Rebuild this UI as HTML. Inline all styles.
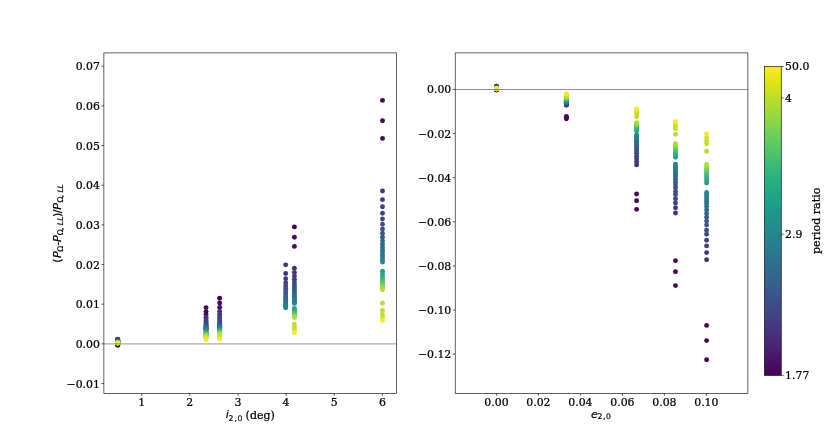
<!DOCTYPE html>
<html><head><meta charset="utf-8"><title>figure</title>
<style>html,body{margin:0;padding:0;background:#fff}svg{display:block}</style></head>
<body>
<svg width="831" height="442" viewBox="0 0 831 442">
<rect width="831" height="442" fill="#fff"/>
<defs><linearGradient id="vg" x1="0" y1="1" x2="0" y2="0">
<stop offset="0.0000" stop-color="#440154"/>
<stop offset="0.0312" stop-color="#470d60"/>
<stop offset="0.0625" stop-color="#48186a"/>
<stop offset="0.0938" stop-color="#482374"/>
<stop offset="0.1250" stop-color="#472d7b"/>
<stop offset="0.1562" stop-color="#453781"/>
<stop offset="0.1875" stop-color="#424086"/>
<stop offset="0.2188" stop-color="#3e4989"/>
<stop offset="0.2500" stop-color="#3b528b"/>
<stop offset="0.2812" stop-color="#375b8d"/>
<stop offset="0.3125" stop-color="#33638d"/>
<stop offset="0.3438" stop-color="#2f6b8e"/>
<stop offset="0.3750" stop-color="#2c728e"/>
<stop offset="0.4062" stop-color="#297a8e"/>
<stop offset="0.4375" stop-color="#26828e"/>
<stop offset="0.4688" stop-color="#23898e"/>
<stop offset="0.5000" stop-color="#21918c"/>
<stop offset="0.5312" stop-color="#1f988b"/>
<stop offset="0.5625" stop-color="#1fa088"/>
<stop offset="0.5938" stop-color="#22a785"/>
<stop offset="0.6250" stop-color="#28ae80"/>
<stop offset="0.6562" stop-color="#32b67a"/>
<stop offset="0.6875" stop-color="#3fbc73"/>
<stop offset="0.7188" stop-color="#4ec36b"/>
<stop offset="0.7500" stop-color="#5ec962"/>
<stop offset="0.7812" stop-color="#70cf57"/>
<stop offset="0.8125" stop-color="#84d44b"/>
<stop offset="0.8438" stop-color="#98d83e"/>
<stop offset="0.8750" stop-color="#addc30"/>
<stop offset="0.9062" stop-color="#c2df23"/>
<stop offset="0.9375" stop-color="#d8e219"/>
<stop offset="0.9688" stop-color="#ece51b"/>
<stop offset="1.0000" stop-color="#fde725"/>
</linearGradient></defs>
<g><circle cx="117.75" cy="345.35" r="2.45" fill="#440154"/><circle cx="117.75" cy="345.05" r="2.45" fill="#450457"/><circle cx="117.75" cy="344.75" r="2.45" fill="#46075a"/><circle cx="117.75" cy="339.10" r="2.45" fill="#472f7d"/><circle cx="117.75" cy="339.41" r="2.45" fill="#453581"/><circle cx="117.75" cy="339.72" r="2.45" fill="#443b84"/><circle cx="117.75" cy="340.03" r="2.45" fill="#424186"/><circle cx="117.75" cy="340.30" r="2.45" fill="#3f4788"/><circle cx="117.75" cy="340.55" r="2.45" fill="#3d4d8a"/><circle cx="117.75" cy="340.80" r="2.45" fill="#3b518b"/><circle cx="117.75" cy="341.04" r="2.45" fill="#39568c"/><circle cx="117.75" cy="341.29" r="2.45" fill="#365c8d"/><circle cx="117.75" cy="341.50" r="2.45" fill="#34618d"/><circle cx="117.75" cy="341.63" r="2.45" fill="#31668e"/><circle cx="117.75" cy="341.76" r="2.45" fill="#2f6b8e"/><circle cx="117.75" cy="341.89" r="2.45" fill="#2d708e"/><circle cx="117.75" cy="342.02" r="2.45" fill="#2b748e"/><circle cx="117.75" cy="342.16" r="2.45" fill="#29798e"/><circle cx="117.75" cy="342.29" r="2.45" fill="#287d8e"/><circle cx="117.75" cy="342.42" r="2.45" fill="#26828e"/><circle cx="117.75" cy="342.55" r="2.45" fill="#24868e"/><circle cx="117.75" cy="342.70" r="2.45" fill="#1e9c89"/><circle cx="117.75" cy="342.73" r="2.45" fill="#21a585"/><circle cx="117.75" cy="342.76" r="2.45" fill="#27ad81"/><circle cx="117.75" cy="342.78" r="2.45" fill="#32b67a"/><circle cx="117.75" cy="342.81" r="2.45" fill="#42be71"/><circle cx="117.75" cy="342.84" r="2.45" fill="#54c568"/><circle cx="117.75" cy="342.87" r="2.45" fill="#69cd5b"/><circle cx="117.75" cy="342.89" r="2.45" fill="#7fd34e"/><circle cx="117.75" cy="342.92" r="2.45" fill="#95d840"/><circle cx="117.75" cy="342.95" r="2.45" fill="#b0dd2f"/><circle cx="117.75" cy="342.97" r="2.45" fill="#b8de29"/><circle cx="117.75" cy="342.99" r="2.45" fill="#c0df25"/><circle cx="117.75" cy="343.01" r="2.45" fill="#c5e021"/><circle cx="117.75" cy="343.03" r="2.45" fill="#cde11d"/><circle cx="117.75" cy="343.07" r="2.45" fill="#fde725"/><circle cx="206.05" cy="307.60" r="2.45" fill="#440154"/><circle cx="206.05" cy="311.60" r="2.45" fill="#450457"/><circle cx="206.05" cy="314.60" r="2.45" fill="#46075a"/><circle cx="206.05" cy="317.25" r="2.45" fill="#472f7d"/><circle cx="206.05" cy="319.11" r="2.45" fill="#453581"/><circle cx="206.05" cy="320.85" r="2.45" fill="#443b84"/><circle cx="206.05" cy="322.05" r="2.45" fill="#424186"/><circle cx="206.05" cy="323.24" r="2.45" fill="#3f4788"/><circle cx="206.05" cy="324.44" r="2.45" fill="#3d4d8a"/><circle cx="206.05" cy="325.63" r="2.45" fill="#3b518b"/><circle cx="206.05" cy="326.18" r="2.45" fill="#39568c"/><circle cx="206.05" cy="326.71" r="2.45" fill="#365c8d"/><circle cx="206.05" cy="327.25" r="2.45" fill="#34618d"/><circle cx="206.05" cy="327.78" r="2.45" fill="#31668e"/><circle cx="206.05" cy="328.32" r="2.45" fill="#2f6b8e"/><circle cx="206.05" cy="328.65" r="2.45" fill="#2d708e"/><circle cx="206.05" cy="328.92" r="2.45" fill="#2b748e"/><circle cx="206.05" cy="329.19" r="2.45" fill="#29798e"/><circle cx="206.05" cy="329.46" r="2.45" fill="#287d8e"/><circle cx="206.05" cy="329.73" r="2.45" fill="#26828e"/><circle cx="206.05" cy="330.00" r="2.45" fill="#24868e"/><circle cx="206.05" cy="331.50" r="2.45" fill="#1e9c89"/><circle cx="206.05" cy="332.21" r="2.45" fill="#21a585"/><circle cx="206.05" cy="332.91" r="2.45" fill="#27ad81"/><circle cx="206.05" cy="333.62" r="2.45" fill="#32b67a"/><circle cx="206.05" cy="334.17" r="2.45" fill="#42be71"/><circle cx="206.05" cy="334.53" r="2.45" fill="#54c568"/><circle cx="206.05" cy="334.90" r="2.45" fill="#69cd5b"/><circle cx="206.05" cy="335.27" r="2.45" fill="#7fd34e"/><circle cx="206.05" cy="335.63" r="2.45" fill="#95d840"/><circle cx="206.05" cy="336.00" r="2.45" fill="#b0dd2f"/><circle cx="206.05" cy="336.45" r="2.45" fill="#b8de29"/><circle cx="206.05" cy="336.95" r="2.45" fill="#c0df25"/><circle cx="206.05" cy="337.45" r="2.45" fill="#c5e021"/><circle cx="206.05" cy="337.95" r="2.45" fill="#cde11d"/><circle cx="206.05" cy="339.70" r="2.45" fill="#fde725"/><circle cx="219.65" cy="298.20" r="2.45" fill="#440154"/><circle cx="219.65" cy="303.00" r="2.45" fill="#450457"/><circle cx="219.65" cy="307.40" r="2.45" fill="#46075a"/><circle cx="219.65" cy="311.50" r="2.45" fill="#472f7d"/><circle cx="219.65" cy="314.15" r="2.45" fill="#453581"/><circle cx="219.65" cy="316.67" r="2.45" fill="#443b84"/><circle cx="219.65" cy="318.56" r="2.45" fill="#424186"/><circle cx="219.65" cy="320.45" r="2.45" fill="#3f4788"/><circle cx="219.65" cy="322.33" r="2.45" fill="#3d4d8a"/><circle cx="219.65" cy="324.22" r="2.45" fill="#3b518b"/><circle cx="219.65" cy="324.78" r="2.45" fill="#39568c"/><circle cx="219.65" cy="325.31" r="2.45" fill="#365c8d"/><circle cx="219.65" cy="325.85" r="2.45" fill="#34618d"/><circle cx="219.65" cy="326.38" r="2.45" fill="#31668e"/><circle cx="219.65" cy="326.92" r="2.45" fill="#2f6b8e"/><circle cx="219.65" cy="327.26" r="2.45" fill="#2d708e"/><circle cx="219.65" cy="327.54" r="2.45" fill="#2b748e"/><circle cx="219.65" cy="327.82" r="2.45" fill="#29798e"/><circle cx="219.65" cy="328.09" r="2.45" fill="#287d8e"/><circle cx="219.65" cy="328.37" r="2.45" fill="#26828e"/><circle cx="219.65" cy="328.65" r="2.45" fill="#24868e"/><circle cx="219.65" cy="329.95" r="2.45" fill="#1e9c89"/><circle cx="219.65" cy="330.49" r="2.45" fill="#21a585"/><circle cx="219.65" cy="331.02" r="2.45" fill="#27ad81"/><circle cx="219.65" cy="331.56" r="2.45" fill="#32b67a"/><circle cx="219.65" cy="332.08" r="2.45" fill="#42be71"/><circle cx="219.65" cy="332.57" r="2.45" fill="#54c568"/><circle cx="219.65" cy="333.06" r="2.45" fill="#69cd5b"/><circle cx="219.65" cy="333.56" r="2.45" fill="#7fd34e"/><circle cx="219.65" cy="334.06" r="2.45" fill="#95d840"/><circle cx="219.65" cy="334.55" r="2.45" fill="#b0dd2f"/><circle cx="219.65" cy="335.05" r="2.45" fill="#b8de29"/><circle cx="219.65" cy="335.55" r="2.45" fill="#c0df25"/><circle cx="219.65" cy="336.05" r="2.45" fill="#c5e021"/><circle cx="219.65" cy="336.85" r="2.45" fill="#cde11d"/><circle cx="219.65" cy="339.00" r="2.45" fill="#fde725"/><circle cx="285.70" cy="264.83" r="2.45" fill="#472f7d"/><circle cx="285.70" cy="273.48" r="2.45" fill="#453581"/><circle cx="285.70" cy="278.75" r="2.45" fill="#443b84"/><circle cx="285.70" cy="282.75" r="2.45" fill="#424186"/><circle cx="285.70" cy="285.67" r="2.45" fill="#3f4788"/><circle cx="285.70" cy="288.32" r="2.45" fill="#3d4d8a"/><circle cx="285.70" cy="290.73" r="2.45" fill="#3b518b"/><circle cx="285.70" cy="292.93" r="2.45" fill="#39568c"/><circle cx="285.70" cy="294.97" r="2.45" fill="#365c8d"/><circle cx="285.70" cy="296.85" r="2.45" fill="#34618d"/><circle cx="285.70" cy="298.59" r="2.45" fill="#31668e"/><circle cx="285.70" cy="300.21" r="2.45" fill="#2f6b8e"/><circle cx="285.70" cy="301.71" r="2.45" fill="#2d708e"/><circle cx="285.70" cy="303.11" r="2.45" fill="#2b748e"/><circle cx="285.70" cy="304.41" r="2.45" fill="#29798e"/><circle cx="285.70" cy="305.62" r="2.45" fill="#287d8e"/><circle cx="285.70" cy="306.75" r="2.45" fill="#26828e"/><circle cx="285.70" cy="307.80" r="2.45" fill="#24868e"/><circle cx="294.40" cy="226.90" r="2.45" fill="#440154"/><circle cx="294.40" cy="237.30" r="2.45" fill="#450457"/><circle cx="294.40" cy="246.40" r="2.45" fill="#46075a"/><circle cx="294.40" cy="268.27" r="2.45" fill="#472f7d"/><circle cx="294.40" cy="272.54" r="2.45" fill="#453581"/><circle cx="294.40" cy="276.08" r="2.45" fill="#443b84"/><circle cx="294.40" cy="279.29" r="2.45" fill="#424186"/><circle cx="294.40" cy="282.11" r="2.45" fill="#3f4788"/><circle cx="294.40" cy="284.68" r="2.45" fill="#3d4d8a"/><circle cx="294.40" cy="287.01" r="2.45" fill="#3b518b"/><circle cx="294.40" cy="289.13" r="2.45" fill="#39568c"/><circle cx="294.40" cy="291.11" r="2.45" fill="#365c8d"/><circle cx="294.40" cy="292.92" r="2.45" fill="#34618d"/><circle cx="294.40" cy="294.60" r="2.45" fill="#31668e"/><circle cx="294.40" cy="296.16" r="2.45" fill="#2f6b8e"/><circle cx="294.40" cy="297.61" r="2.45" fill="#2d708e"/><circle cx="294.40" cy="298.95" r="2.45" fill="#2b748e"/><circle cx="294.40" cy="300.20" r="2.45" fill="#29798e"/><circle cx="294.40" cy="301.36" r="2.45" fill="#287d8e"/><circle cx="294.40" cy="302.43" r="2.45" fill="#26828e"/><circle cx="294.40" cy="303.42" r="2.45" fill="#24868e"/><circle cx="294.40" cy="308.52" r="2.45" fill="#1e9c89"/><circle cx="294.40" cy="309.79" r="2.45" fill="#21a585"/><circle cx="294.40" cy="310.99" r="2.45" fill="#27ad81"/><circle cx="294.40" cy="312.11" r="2.45" fill="#32b67a"/><circle cx="294.40" cy="313.16" r="2.45" fill="#42be71"/><circle cx="294.40" cy="314.15" r="2.45" fill="#54c568"/><circle cx="294.40" cy="315.08" r="2.45" fill="#69cd5b"/><circle cx="294.40" cy="315.95" r="2.45" fill="#7fd34e"/><circle cx="294.40" cy="316.76" r="2.45" fill="#95d840"/><circle cx="294.40" cy="317.53" r="2.45" fill="#b0dd2f"/><circle cx="294.40" cy="324.10" r="2.45" fill="#b8de29"/><circle cx="294.40" cy="327.00" r="2.45" fill="#c0df25"/><circle cx="294.40" cy="329.50" r="2.45" fill="#c5e021"/><circle cx="294.40" cy="330.85" r="2.45" fill="#cde11d"/><circle cx="294.40" cy="332.50" r="2.45" fill="#fde725"/><circle cx="382.50" cy="100.40" r="2.45" fill="#440154"/><circle cx="382.50" cy="120.70" r="2.45" fill="#450457"/><circle cx="382.50" cy="138.40" r="2.45" fill="#46075a"/><circle cx="382.50" cy="191.00" r="2.45" fill="#472f7d"/><circle cx="382.50" cy="199.65" r="2.45" fill="#453581"/><circle cx="382.50" cy="206.80" r="2.45" fill="#443b84"/><circle cx="382.50" cy="213.30" r="2.45" fill="#424186"/><circle cx="382.50" cy="219.00" r="2.45" fill="#3f4788"/><circle cx="382.50" cy="224.20" r="2.45" fill="#3d4d8a"/><circle cx="382.50" cy="228.90" r="2.45" fill="#3b518b"/><circle cx="382.50" cy="233.20" r="2.45" fill="#39568c"/><circle cx="382.50" cy="237.20" r="2.45" fill="#365c8d"/><circle cx="382.50" cy="240.86" r="2.45" fill="#34618d"/><circle cx="382.50" cy="244.26" r="2.45" fill="#31668e"/><circle cx="382.50" cy="247.41" r="2.45" fill="#2f6b8e"/><circle cx="382.50" cy="250.34" r="2.45" fill="#2d708e"/><circle cx="382.50" cy="253.06" r="2.45" fill="#2b748e"/><circle cx="382.50" cy="255.58" r="2.45" fill="#29798e"/><circle cx="382.50" cy="257.92" r="2.45" fill="#287d8e"/><circle cx="382.50" cy="260.09" r="2.45" fill="#26828e"/><circle cx="382.50" cy="262.10" r="2.45" fill="#24868e"/><circle cx="382.50" cy="271.30" r="2.45" fill="#1e9c89"/><circle cx="382.50" cy="273.92" r="2.45" fill="#21a585"/><circle cx="382.50" cy="276.37" r="2.45" fill="#27ad81"/><circle cx="382.50" cy="278.68" r="2.45" fill="#32b67a"/><circle cx="382.50" cy="280.84" r="2.45" fill="#42be71"/><circle cx="382.50" cy="282.87" r="2.45" fill="#54c568"/><circle cx="382.50" cy="284.77" r="2.45" fill="#69cd5b"/><circle cx="382.50" cy="286.55" r="2.45" fill="#7fd34e"/><circle cx="382.50" cy="288.23" r="2.45" fill="#95d840"/><circle cx="382.50" cy="289.80" r="2.45" fill="#b0dd2f"/><circle cx="382.50" cy="303.20" r="2.45" fill="#b8de29"/><circle cx="382.50" cy="310.40" r="2.45" fill="#c0df25"/><circle cx="382.50" cy="314.40" r="2.45" fill="#c5e021"/><circle cx="382.50" cy="317.10" r="2.45" fill="#cde11d"/><circle cx="382.50" cy="320.40" r="2.45" fill="#fde725"/><circle cx="496.50" cy="90.05" r="2.45" fill="#440154"/><circle cx="496.50" cy="89.90" r="2.45" fill="#450457"/><circle cx="496.50" cy="89.75" r="2.45" fill="#46075a"/><circle cx="496.50" cy="86.25" r="2.45" fill="#472f7d"/><circle cx="496.50" cy="86.47" r="2.45" fill="#453581"/><circle cx="496.50" cy="86.69" r="2.45" fill="#443b84"/><circle cx="496.50" cy="86.91" r="2.45" fill="#424186"/><circle cx="496.50" cy="87.09" r="2.45" fill="#3f4788"/><circle cx="496.50" cy="87.24" r="2.45" fill="#3d4d8a"/><circle cx="496.50" cy="87.40" r="2.45" fill="#3b518b"/><circle cx="496.50" cy="87.55" r="2.45" fill="#39568c"/><circle cx="496.50" cy="87.70" r="2.45" fill="#365c8d"/><circle cx="496.50" cy="87.83" r="2.45" fill="#34618d"/><circle cx="496.50" cy="87.91" r="2.45" fill="#31668e"/><circle cx="496.50" cy="87.98" r="2.45" fill="#2f6b8e"/><circle cx="496.50" cy="88.06" r="2.45" fill="#2d708e"/><circle cx="496.50" cy="88.14" r="2.45" fill="#2b748e"/><circle cx="496.50" cy="88.22" r="2.45" fill="#29798e"/><circle cx="496.50" cy="88.29" r="2.45" fill="#287d8e"/><circle cx="496.50" cy="88.37" r="2.45" fill="#26828e"/><circle cx="496.50" cy="88.45" r="2.45" fill="#24868e"/><circle cx="496.50" cy="88.55" r="2.45" fill="#1e9c89"/><circle cx="496.50" cy="88.57" r="2.45" fill="#21a585"/><circle cx="496.50" cy="88.58" r="2.45" fill="#27ad81"/><circle cx="496.50" cy="88.60" r="2.45" fill="#32b67a"/><circle cx="496.50" cy="88.62" r="2.45" fill="#42be71"/><circle cx="496.50" cy="88.63" r="2.45" fill="#54c568"/><circle cx="496.50" cy="88.65" r="2.45" fill="#69cd5b"/><circle cx="496.50" cy="88.67" r="2.45" fill="#7fd34e"/><circle cx="496.50" cy="88.68" r="2.45" fill="#95d840"/><circle cx="496.50" cy="88.70" r="2.45" fill="#b0dd2f"/><circle cx="496.50" cy="88.72" r="2.45" fill="#b8de29"/><circle cx="496.50" cy="88.74" r="2.45" fill="#c0df25"/><circle cx="496.50" cy="88.76" r="2.45" fill="#c5e021"/><circle cx="496.50" cy="88.78" r="2.45" fill="#cde11d"/><circle cx="496.50" cy="88.80" r="2.45" fill="#fde725"/><circle cx="566.40" cy="118.85" r="2.45" fill="#440154"/><circle cx="566.40" cy="117.70" r="2.45" fill="#450457"/><circle cx="566.40" cy="116.50" r="2.45" fill="#46075a"/><circle cx="566.40" cy="105.30" r="2.45" fill="#472f7d"/><circle cx="566.40" cy="104.90" r="2.45" fill="#453581"/><circle cx="566.40" cy="104.50" r="2.45" fill="#443b84"/><circle cx="566.40" cy="104.10" r="2.45" fill="#424186"/><circle cx="566.40" cy="103.70" r="2.45" fill="#3f4788"/><circle cx="566.40" cy="103.31" r="2.45" fill="#3d4d8a"/><circle cx="566.40" cy="102.91" r="2.45" fill="#3b518b"/><circle cx="566.40" cy="102.73" r="2.45" fill="#39568c"/><circle cx="566.40" cy="102.56" r="2.45" fill="#365c8d"/><circle cx="566.40" cy="102.38" r="2.45" fill="#34618d"/><circle cx="566.40" cy="102.21" r="2.45" fill="#31668e"/><circle cx="566.40" cy="102.04" r="2.45" fill="#2f6b8e"/><circle cx="566.40" cy="101.86" r="2.45" fill="#2d708e"/><circle cx="566.40" cy="101.69" r="2.45" fill="#2b748e"/><circle cx="566.40" cy="101.52" r="2.45" fill="#29798e"/><circle cx="566.40" cy="101.35" r="2.45" fill="#287d8e"/><circle cx="566.40" cy="101.17" r="2.45" fill="#26828e"/><circle cx="566.40" cy="101.00" r="2.45" fill="#24868e"/><circle cx="566.40" cy="100.40" r="2.45" fill="#1e9c89"/><circle cx="566.40" cy="99.95" r="2.45" fill="#21a585"/><circle cx="566.40" cy="99.50" r="2.45" fill="#27ad81"/><circle cx="566.40" cy="99.05" r="2.45" fill="#32b67a"/><circle cx="566.40" cy="98.63" r="2.45" fill="#42be71"/><circle cx="566.40" cy="98.27" r="2.45" fill="#54c568"/><circle cx="566.40" cy="97.90" r="2.45" fill="#69cd5b"/><circle cx="566.40" cy="97.53" r="2.45" fill="#7fd34e"/><circle cx="566.40" cy="97.17" r="2.45" fill="#95d840"/><circle cx="566.40" cy="96.80" r="2.45" fill="#b0dd2f"/><circle cx="566.40" cy="96.30" r="2.45" fill="#b8de29"/><circle cx="566.40" cy="95.80" r="2.45" fill="#c0df25"/><circle cx="566.40" cy="95.30" r="2.45" fill="#c5e021"/><circle cx="566.40" cy="94.80" r="2.45" fill="#cde11d"/><circle cx="566.40" cy="93.80" r="2.45" fill="#fde725"/><circle cx="636.60" cy="209.35" r="2.45" fill="#440154"/><circle cx="636.60" cy="200.82" r="2.45" fill="#450457"/><circle cx="636.60" cy="194.07" r="2.45" fill="#46075a"/><circle cx="636.60" cy="164.90" r="2.45" fill="#472f7d"/><circle cx="636.60" cy="161.75" r="2.45" fill="#453581"/><circle cx="636.60" cy="158.77" r="2.45" fill="#443b84"/><circle cx="636.60" cy="156.24" r="2.45" fill="#424186"/><circle cx="636.60" cy="153.62" r="2.45" fill="#3f4788"/><circle cx="636.60" cy="151.80" r="2.45" fill="#3d4d8a"/><circle cx="636.60" cy="149.54" r="2.45" fill="#3b518b"/><circle cx="636.60" cy="147.76" r="2.45" fill="#39568c"/><circle cx="636.60" cy="146.08" r="2.45" fill="#365c8d"/><circle cx="636.60" cy="144.39" r="2.45" fill="#34618d"/><circle cx="636.60" cy="142.79" r="2.45" fill="#31668e"/><circle cx="636.60" cy="141.33" r="2.45" fill="#2f6b8e"/><circle cx="636.60" cy="140.08" r="2.45" fill="#2d708e"/><circle cx="636.60" cy="138.92" r="2.45" fill="#2b748e"/><circle cx="636.60" cy="137.84" r="2.45" fill="#29798e"/><circle cx="636.60" cy="136.83" r="2.45" fill="#287d8e"/><circle cx="636.60" cy="135.89" r="2.45" fill="#26828e"/><circle cx="636.60" cy="135.02" r="2.45" fill="#24868e"/><circle cx="636.60" cy="130.89" r="2.45" fill="#1e9c89"/><circle cx="636.60" cy="129.72" r="2.45" fill="#21a585"/><circle cx="636.60" cy="128.61" r="2.45" fill="#27ad81"/><circle cx="636.60" cy="127.58" r="2.45" fill="#32b67a"/><circle cx="636.60" cy="126.61" r="2.45" fill="#42be71"/><circle cx="636.60" cy="125.70" r="2.45" fill="#54c568"/><circle cx="636.60" cy="124.85" r="2.45" fill="#69cd5b"/><circle cx="636.60" cy="124.05" r="2.45" fill="#7fd34e"/><circle cx="636.60" cy="123.29" r="2.45" fill="#95d840"/><circle cx="636.60" cy="122.59" r="2.45" fill="#b0dd2f"/><circle cx="636.60" cy="116.77" r="2.45" fill="#b8de29"/><circle cx="636.60" cy="113.40" r="2.45" fill="#c0df25"/><circle cx="636.60" cy="112.24" r="2.45" fill="#c5e021"/><circle cx="636.60" cy="110.78" r="2.45" fill="#cde11d"/><circle cx="636.60" cy="109.05" r="2.45" fill="#fde725"/><circle cx="675.50" cy="285.60" r="2.45" fill="#440154"/><circle cx="675.50" cy="271.67" r="2.45" fill="#450457"/><circle cx="675.50" cy="260.63" r="2.45" fill="#46075a"/><circle cx="675.50" cy="212.95" r="2.45" fill="#472f7d"/><circle cx="675.50" cy="207.80" r="2.45" fill="#453581"/><circle cx="675.50" cy="202.93" r="2.45" fill="#443b84"/><circle cx="675.50" cy="198.80" r="2.45" fill="#424186"/><circle cx="675.50" cy="194.51" r="2.45" fill="#3f4788"/><circle cx="675.50" cy="191.54" r="2.45" fill="#3d4d8a"/><circle cx="675.50" cy="187.84" r="2.45" fill="#3b518b"/><circle cx="675.50" cy="184.93" r="2.45" fill="#39568c"/><circle cx="675.50" cy="182.17" r="2.45" fill="#365c8d"/><circle cx="675.50" cy="179.42" r="2.45" fill="#34618d"/><circle cx="675.50" cy="176.80" r="2.45" fill="#31668e"/><circle cx="675.50" cy="174.41" r="2.45" fill="#2f6b8e"/><circle cx="675.50" cy="172.37" r="2.45" fill="#2d708e"/><circle cx="675.50" cy="170.47" r="2.45" fill="#2b748e"/><circle cx="675.50" cy="168.71" r="2.45" fill="#29798e"/><circle cx="675.50" cy="167.06" r="2.45" fill="#287d8e"/><circle cx="675.50" cy="165.53" r="2.45" fill="#26828e"/><circle cx="675.50" cy="164.10" r="2.45" fill="#24868e"/><circle cx="675.50" cy="157.35" r="2.45" fill="#1e9c89"/><circle cx="675.50" cy="155.43" r="2.45" fill="#21a585"/><circle cx="675.50" cy="153.63" r="2.45" fill="#27ad81"/><circle cx="675.50" cy="151.94" r="2.45" fill="#32b67a"/><circle cx="675.50" cy="150.35" r="2.45" fill="#42be71"/><circle cx="675.50" cy="148.87" r="2.45" fill="#54c568"/><circle cx="675.50" cy="147.47" r="2.45" fill="#69cd5b"/><circle cx="675.50" cy="146.16" r="2.45" fill="#7fd34e"/><circle cx="675.50" cy="144.93" r="2.45" fill="#95d840"/><circle cx="675.50" cy="143.78" r="2.45" fill="#b0dd2f"/><circle cx="675.50" cy="134.27" r="2.45" fill="#b8de29"/><circle cx="675.50" cy="128.76" r="2.45" fill="#c0df25"/><circle cx="675.50" cy="126.87" r="2.45" fill="#c5e021"/><circle cx="675.50" cy="124.47" r="2.45" fill="#cde11d"/><circle cx="675.50" cy="121.64" r="2.45" fill="#fde725"/><circle cx="706.60" cy="359.80" r="2.45" fill="#440154"/><circle cx="706.60" cy="340.60" r="2.45" fill="#450457"/><circle cx="706.60" cy="325.40" r="2.45" fill="#46075a"/><circle cx="706.60" cy="259.70" r="2.45" fill="#472f7d"/><circle cx="706.60" cy="252.60" r="2.45" fill="#453581"/><circle cx="706.60" cy="245.90" r="2.45" fill="#443b84"/><circle cx="706.60" cy="240.20" r="2.45" fill="#424186"/><circle cx="706.60" cy="234.30" r="2.45" fill="#3f4788"/><circle cx="706.60" cy="230.20" r="2.45" fill="#3d4d8a"/><circle cx="706.60" cy="225.10" r="2.45" fill="#3b518b"/><circle cx="706.60" cy="221.10" r="2.45" fill="#39568c"/><circle cx="706.60" cy="217.30" r="2.45" fill="#365c8d"/><circle cx="706.60" cy="213.50" r="2.45" fill="#34618d"/><circle cx="706.60" cy="209.90" r="2.45" fill="#31668e"/><circle cx="706.60" cy="206.60" r="2.45" fill="#2f6b8e"/><circle cx="706.60" cy="203.79" r="2.45" fill="#2d708e"/><circle cx="706.60" cy="201.18" r="2.45" fill="#2b748e"/><circle cx="706.60" cy="198.74" r="2.45" fill="#29798e"/><circle cx="706.60" cy="196.48" r="2.45" fill="#287d8e"/><circle cx="706.60" cy="194.37" r="2.45" fill="#26828e"/><circle cx="706.60" cy="192.40" r="2.45" fill="#24868e"/><circle cx="706.60" cy="183.10" r="2.45" fill="#1e9c89"/><circle cx="706.60" cy="180.45" r="2.45" fill="#21a585"/><circle cx="706.60" cy="177.97" r="2.45" fill="#27ad81"/><circle cx="706.60" cy="175.64" r="2.45" fill="#32b67a"/><circle cx="706.60" cy="173.46" r="2.45" fill="#42be71"/><circle cx="706.60" cy="171.41" r="2.45" fill="#54c568"/><circle cx="706.60" cy="169.48" r="2.45" fill="#69cd5b"/><circle cx="706.60" cy="167.68" r="2.45" fill="#7fd34e"/><circle cx="706.60" cy="165.99" r="2.45" fill="#95d840"/><circle cx="706.60" cy="164.40" r="2.45" fill="#b0dd2f"/><circle cx="706.60" cy="151.30" r="2.45" fill="#b8de29"/><circle cx="706.60" cy="143.70" r="2.45" fill="#c0df25"/><circle cx="706.60" cy="141.10" r="2.45" fill="#c5e021"/><circle cx="706.60" cy="137.80" r="2.45" fill="#cde11d"/><circle cx="706.60" cy="133.90" r="2.45" fill="#fde725"/></g>
<line x1="103.90" y1="343.85" x2="396.50" y2="343.85" stroke="#000" stroke-opacity="0.33" stroke-width="1.45"/>
<line x1="455.20" y1="89.50" x2="747.90" y2="89.50" stroke="#000" stroke-opacity="0.75" stroke-width="0.6"/>
<rect x="103.90" y="52.92" width="292.60" height="340.48" fill="none" stroke="#000" stroke-width="0.62"/>
<rect x="455.20" y="52.92" width="292.70" height="340.48" fill="none" stroke="#000" stroke-width="0.62"/>
<rect x="764.45" y="66.50" width="16.80" height="308.90" fill="url(#vg)"/>
<rect x="764.45" y="66.50" width="16.80" height="308.90" fill="none" stroke="#000" stroke-width="0.62"/>
<path d="M141.70 393.40v2.45M189.83 393.40v2.45M237.96 393.40v2.45M286.09 393.40v2.45M334.22 393.40v2.45M382.35 393.40v2.45M103.90 383.51h-2.45M103.90 343.85h-2.45M103.90 304.19h-2.45M103.90 264.53h-2.45M103.90 224.87h-2.45M103.90 185.21h-2.45M103.90 145.55h-2.45M103.90 105.89h-2.45M103.90 66.23h-2.45M496.45 393.40v2.45M538.43 393.40v2.45M580.41 393.40v2.45M622.39 393.40v2.45M664.37 393.40v2.45M706.35 393.40v2.45M455.20 89.45h-2.45M455.20 133.57h-2.45M455.20 177.69h-2.45M455.20 221.81h-2.45M455.20 265.93h-2.45M455.20 310.05h-2.45M455.20 354.17h-2.45M781.25 66.50h2.45M781.25 97.90h2.45M781.25 234.20h2.45M781.25 375.60h2.45" stroke="#000" stroke-width="0.62" fill="none"/>
<g font-family='"DejaVu Serif", "Liberation Serif", serif' font-size="10.90" fill="#000" stroke="#000" stroke-width="0.24"><text x="141.70" y="405.95" text-anchor="middle">1</text><text x="189.83" y="405.95" text-anchor="middle">2</text><text x="237.96" y="405.95" text-anchor="middle">3</text><text x="286.09" y="405.95" text-anchor="middle">4</text><text x="334.22" y="405.95" text-anchor="middle">5</text><text x="382.35" y="405.95" text-anchor="middle">6</text><text x="99.95" y="387.56" text-anchor="end">−0.01</text><text x="99.95" y="347.90" text-anchor="end">0.00</text><text x="99.95" y="308.24" text-anchor="end">0.01</text><text x="99.95" y="268.58" text-anchor="end">0.02</text><text x="99.95" y="228.92" text-anchor="end">0.03</text><text x="99.95" y="189.26" text-anchor="end">0.04</text><text x="99.95" y="149.60" text-anchor="end">0.05</text><text x="99.95" y="109.94" text-anchor="end">0.06</text><text x="99.95" y="70.28" text-anchor="end">0.07</text><text x="496.45" y="405.95" text-anchor="middle">0.00</text><text x="538.43" y="405.95" text-anchor="middle">0.02</text><text x="580.41" y="405.95" text-anchor="middle">0.04</text><text x="622.39" y="405.95" text-anchor="middle">0.06</text><text x="664.37" y="405.95" text-anchor="middle">0.08</text><text x="706.35" y="405.95" text-anchor="middle">0.10</text><text x="451.25" y="93.45" text-anchor="end">0.00</text><text x="451.25" y="137.57" text-anchor="end">−0.02</text><text x="451.25" y="181.69" text-anchor="end">−0.04</text><text x="451.25" y="225.81" text-anchor="end">−0.06</text><text x="451.25" y="269.93" text-anchor="end">−0.08</text><text x="451.25" y="314.05" text-anchor="end">−0.10</text><text x="451.25" y="358.17" text-anchor="end">−0.12</text><text x="785.10" y="70.25" text-anchor="start">50.0</text><text x="785.10" y="101.65" text-anchor="start">4</text><text x="785.10" y="237.95" text-anchor="start">2.9</text><text x="785.10" y="379.35" text-anchor="start">1.77</text></g>
<g fill="#000" stroke="#000" stroke-width="0.20"><text x="225.71" y="418.40" font-size="11.10" font-family='"DejaVu Sans", "Liberation Sans", sans-serif' font-style="italic">i</text><text x="228.59" y="420.50" font-size="7.77" font-family='"DejaVu Sans", "Liberation Sans", sans-serif' stroke-width="0.17">2</text><text x="234.40" y="420.50" font-size="7.77" font-family='"DejaVu Sans", "Liberation Sans", sans-serif' stroke-width="0.17">,</text><text x="237.39" y="420.50" font-size="7.77" font-family='"DejaVu Sans", "Liberation Sans", sans-serif' stroke-width="0.17">0</text><text x="245.62" y="418.50" font-size="11.00" font-family='"DejaVu Serif", "Liberation Serif", serif'>(deg)</text></g>
<g fill="#000" stroke="#000" stroke-width="0.20"><text x="590.90" y="417.90" font-size="11.10" font-family='"DejaVu Sans", "Liberation Sans", sans-serif' font-style="italic">e</text><text x="597.54" y="418.80" font-size="7.77" font-family='"DejaVu Sans", "Liberation Sans", sans-serif' stroke-width="0.17">2</text><text x="603.10" y="418.80" font-size="7.77" font-family='"DejaVu Sans", "Liberation Sans", sans-serif' stroke-width="0.17">,</text><text x="606.09" y="418.80" font-size="7.77" font-family='"DejaVu Sans", "Liberation Sans", sans-serif' stroke-width="0.17">0</text></g>
<g fill="#000" stroke="#000" stroke-width="0.20" transform="translate(60.9 261.9) rotate(-90)"><text x="-0.74" y="0.00" font-size="11.10" font-family='"DejaVu Sans", "Liberation Sans", sans-serif'>(</text><text x="3.89" y="0.00" font-size="11.10" font-family='"DejaVu Sans", "Liberation Sans", sans-serif' font-style="italic">P</text><text x="10.11" y="2.20" font-size="7.77" font-family='"DejaVu Sans", "Liberation Sans", sans-serif' stroke-width="0.17">Ω</text><text x="16.40" y="0.70" font-size="11.10" font-family='"DejaVu Serif", "Liberation Serif", serif'>-</text><text x="19.99" y="0.00" font-size="11.10" font-family='"DejaVu Sans", "Liberation Sans", sans-serif' font-style="italic">P</text><text x="26.61" y="2.20" font-size="7.77" font-family='"DejaVu Sans", "Liberation Sans", sans-serif' stroke-width="0.17">Ω</text><text x="31.80" y="2.20" font-size="7.77" font-family='"DejaVu Sans", "Liberation Sans", sans-serif' stroke-width="0.17">,</text><text x="36.59" y="2.20" font-size="7.77" font-family='"DejaVu Sans", "Liberation Sans", sans-serif' font-style="italic" stroke-width="0.17">L</text><text x="41.19" y="2.20" font-size="7.77" font-family='"DejaVu Sans", "Liberation Sans", sans-serif' font-style="italic" stroke-width="0.17">L</text><text x="45.01" y="0.00" font-size="11.10" font-family='"DejaVu Sans", "Liberation Sans", sans-serif'>)</text><text x="48.60" y="0.00" font-size="11.10" font-family='"DejaVu Sans", "Liberation Sans", sans-serif'>/</text><text x="52.19" y="0.00" font-size="11.10" font-family='"DejaVu Sans", "Liberation Sans", sans-serif' font-style="italic">P</text><text x="59.51" y="2.20" font-size="7.77" font-family='"DejaVu Sans", "Liberation Sans", sans-serif' stroke-width="0.17">Ω</text><text x="64.70" y="2.20" font-size="7.77" font-family='"DejaVu Sans", "Liberation Sans", sans-serif' stroke-width="0.17">,</text><text x="69.39" y="2.20" font-size="7.77" font-family='"DejaVu Sans", "Liberation Sans", sans-serif' font-style="italic" stroke-width="0.17">L</text><text x="73.29" y="2.20" font-size="7.77" font-family='"DejaVu Sans", "Liberation Sans", sans-serif' font-style="italic" stroke-width="0.17">L</text></g>
<text transform="translate(820.4 220.8) rotate(-90)" text-anchor="middle" font-size="11.10" fill="#000" stroke="#000" stroke-width="0.25" font-family='"DejaVu Serif", "Liberation Serif", serif'>period ratio</text>
</svg>
</body></html>
